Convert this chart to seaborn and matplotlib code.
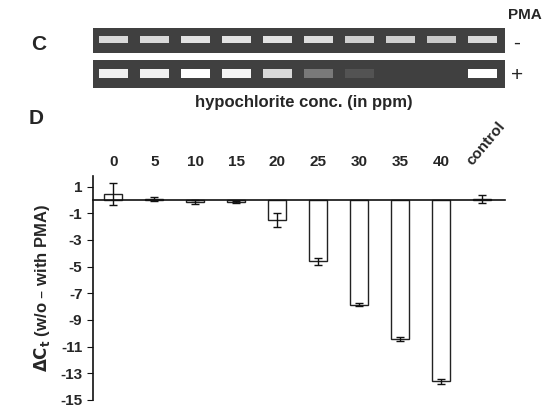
import matplotlib
matplotlib.use("Agg")
import matplotlib.pyplot as plt
import seaborn as sns
import numpy as np
import pandas as pd

categories = ["0", "5", "10", "15", "20", "25", "30", "35", "40", "control"]
delta_ct = [0.45, 0.05, -0.15, -0.15, -1.5, -4.6, -7.85, -10.4, -13.6, 0.05]
errors = [0.8, 0.15, 0.15, 0.1, 0.5, 0.25, 0.1, 0.15, 0.2, 0.3]
band_minus = [0.8, 0.8, 0.85, 0.85, 0.85, 0.82, 0.75, 0.75, 0.72, 0.8]
band_plus = [0.92, 0.92, 1.0, 0.95, 0.8, 0.3, 0.1, 0.0, 0.0, 1.0]
yticks = [1, -1, -3, -5, -7, -9, -11, -13, -15]

sns.set_style("white")
plt.rcParams['font.family'] = ['Liberation Sans', 'DejaVu Sans']

fig = plt.figure(figsize=(5.53, 4.2), dpi=100)
x = np.arange(len(categories))
XL = (-0.5, 9.55)

# gel panels
for bands, bottom, h in [(band_minus, 0.874, 0.06), (band_plus, 0.79, 0.067)]:
    g = fig.add_axes([0.168, bottom, 0.745, h])
    g.set_facecolor("#404040")
    cols = [str(min(1, 0.25 + 0.75 * b)) for b in bands]
    g.bar(x, 0.3, bottom=0.38, width=0.7, color=cols, edgecolor="none")
    g.set_xlim(*XL); g.set_ylim(0, 1)
    g.set_xticks([]); g.set_yticks([])
    for s in g.spines.values():
        s.set_visible(False)

fig.text(0.07, 0.893, "C", fontsize=15, fontweight="bold", ha="center", va="center")
fig.text(0.95, 0.965, "PMA", fontsize=11, fontweight="bold", ha="center", va="center")
fig.text(0.935, 0.898, "-", fontsize=15, ha="center", va="center")
fig.text(0.935, 0.82, "+", fontsize=15, ha="center", va="center")
fig.text(0.55, 0.755, "hypochlorite conc. (in ppm)", fontsize=12, fontweight="bold", ha="center", va="center")
fig.text(0.065, 0.718, "D", fontsize=15, fontweight="bold", ha="center", va="center")

ax = fig.add_axes([0.168, 0.048, 0.745, 0.533])
df = pd.DataFrame({"pos": x, "val": delta_ct})
sns.barplot(data=df, x="pos", y="val", order=list(x), ax=ax, width=0.44,
            color="white", edgecolor="#222222", linewidth=1.0, native_scale=True)
ax.errorbar(x, delta_ct, yerr=errors, fmt="none", ecolor="#111111", elinewidth=1, capsize=3)
ax.set_xlim(*XL); ax.set_ylim(-15, 1.8)
ax.spines['top'].set_visible(False); ax.spines['right'].set_visible(False)
ax.spines['bottom'].set_position(('data', 0))
for s in ['left', 'bottom']:
    ax.spines[s].set_color("#111111"); ax.spines[s].set_linewidth(1.2)
ax.set_xticks(x + 0.5)
ax.set_xticklabels([])
ax.tick_params(axis='x', direction='inout', length=5, color="#111111")
ax.set_yticks(yticks)
ax.set_yticklabels([str(t) for t in yticks], fontsize=11, fontweight="bold")
ax.tick_params(axis='y', direction='out', length=4, color="#111111", left=True)
ax.set_xlabel("")
ax.set_ylabel(r"$\mathbf{\Delta C_t}$ (w/o – with PMA)", fontsize=12, fontweight="bold", labelpad=6)
for i, c in enumerate(categories):
    if c == "control":
        ax.text(i + 0.1, 2.4, c, rotation=50, fontsize=11, fontweight="bold", ha="center", va="bottom")
    else:
        ax.text(i, 2.3, c, fontsize=11, fontweight="bold", ha="center", va="bottom")

fig.savefig("out.png", dpi=100)
